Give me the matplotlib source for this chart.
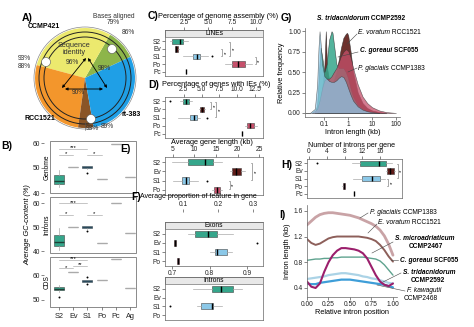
import matplotlib
matplotlib.use("Agg")
import matplotlib.pyplot as plt
from matplotlib.patches import Wedge, Circle, Rectangle
from matplotlib.ticker import NullLocator

plt.rcParams['font.family'] = ['Liberation Sans', 'DejaVu Sans']
plt.rcParams['font.size'] = 5
plt.rcParams['axes.linewidth'] = 0.5
plt.rcParams['axes.edgecolor'] = '#666666'
plt.rcParams['xtick.major.width'] = 0.5
plt.rcParams['ytick.major.width'] = 0.5
plt.rcParams['xtick.major.size'] = 2
plt.rcParams['ytick.major.size'] = 2
plt.rcParams['xtick.major.pad'] = 0.8
plt.rcParams['ytick.major.pad'] = 1
plt.rcParams['xtick.labelsize'] = 4.8
plt.rcParams['ytick.labelsize'] = 4.8
plt.rcParams['xtick.color'] = '#555555'
plt.rcParams['ytick.color'] = '#555555'
plt.rcParams['xtick.labelcolor'] = '#222222'
plt.rcParams['ytick.labelcolor'] = '#222222'

W, H = 474, 327

C_S2 = '#35a68b'
C_EV = '#5e1b17'
C_S1 = '#8bc8e8'
C_PO = '#c6506b'

# ---------------- data ----------------
# A) pie: wedge sizes in degrees, counter-clockwise from 25 deg
a_sizes = [35, 105, 97, 18, 105]
a_colors = ['#8db54a', '#ece96e', '#f3962c', '#8a5526', '#1f9fe6']
a_start = 25

# B) GC content, vertical boxes
b_cats = ['S2', 'Ev', 'S1', 'Po', 'Pc', 'Ag']
b_genome = dict(q1=[43.6, 50.5, 49.9, 45.6, 59.5, 46.4], med=[44.9, 50.5, 50.4, 45.6, 59.5, 46.4],
                q3=[47.2, 50.5, 50.8, 45.6, 59.5, 46.4], lo=[42.5, 50.5, 49.7, 45.6, 59.5, 46.4],
                hi=[49.2, 50.5, 51.0, 45.6, 59.5, 46.4], fl=[[], [], [48.1], [], [], []])
b_introns = dict(q1=[42.1, 49.9, 49.4, 43.5, 59.9, 47.5], med=[43.9, 49.9, 49.9, 43.5, 59.9, 47.5],
                 q3=[46.7, 49.9, 50.4, 43.5, 59.9, 47.5], lo=[40.4, 49.9, 49.2, 43.5, 59.9, 47.5],
                 hi=[49.4, 49.9, 50.6, 43.5, 59.9, 47.5], fl=[[], [], [48.3], [], [], []])
b_cds = dict(q1=[54.0, 61.2, 57.3, 58.0, 66.3, 54.8], med=[54.6, 61.2, 57.6, 58.0, 66.3, 54.8],
             q3=[55.3, 61.2, 58.0, 58.0, 66.3, 54.8], lo=[53.3, 61.2, 57.1, 58.0, 66.3, 54.8],
             hi=[56.0, 61.2, 58.2, 58.0, 66.3, 54.8], fl=[[51.3], [], [59.1, 56.4], [], [], []])
b_sig_genome = [(0, 2, 57.7, '***'), (0, 1, 55.2, '*'), (2, 3, 55.2, '*')]
b_sig_introns = [(0, 2, 59.9, '***'), (0, 1, 55.0, '*'), (2, 3, 55.0, '*')]
b_sig_cds = [(0, 2, 66.0, '***'), (0, 1, 62.7, '*'), (1, 2, 63.6, '**')]

# C) LINEs, % of genome assembly
c_cats = ['S2', 'Ev', 'S1', 'Po', 'Pc']
c_box = dict(q1=[1.28, 1.6, 3.4, 7.5, 2.7], med=[2.08, 1.7, 3.85, 8.1, 2.7], q3=[2.43, 1.9, 4.2, 8.9, 2.7],
             lo=[1.04, 1.55, 2.4, 6.8, 2.7], hi=[2.9, 1.95, 5.0, 9.6, 2.7], fl=[[], [], [5.4], [], []])
c_sig = [(1, 2, 6.5), (0, 2, 7.3), (2, 3, 10.0)]

# D) genes with IEs
d_cats = ['S2', 'Ev', 'S1', 'Po', 'Pc']
d_box = dict(q1=[2.4, 4.8, 3.4, 11.4, 10.7], med=[2.8, 5.0, 3.9, 11.9, 10.7], q3=[3.2, 5.3, 4.4, 12.4, 10.7],
             lo=[2.0, 4.6, 1.7, 11.1, 10.7], hi=[3.6, 5.5, 4.8, 12.8, 10.7], fl=[[0.6], [], [5.8], [], []])
d_sig = [(0, 1, 6.4), (0, 2, 7.1)]

# E) gene length
e_cats = ['S2', 'Ev', 'S1', 'Po']
e_box = dict(q1=[8.6, 18.6, 7.2, 14.6], med=[12.5, 19.6, 8.1, 15.2], q3=[14.4, 20.9, 8.8, 16.0],
             lo=[4.8, 18.3, 5.1, 14.1], hi=[16.3, 21.6, 10.9, 16.4], fl=[[], [], [13.0], []])
e_sig = [(2, 3, 18.2), (0, 2, 23.4)]

# F) proportion of feature in gene
f_cats = ['S2', 'Ev', 'S1', 'Po']
fx_box = dict(q1=[0.761, 0.706, 0.815, 0.714], med=[0.796, 0.708, 0.820, 0.716], q3=[0.820, 0.710, 0.847, 0.718],
              lo=[0.743, 0.705, 0.800, 0.713], hi=[0.863, 0.711, 0.860, 0.719], fl=[[], [0.927], [], []])
fi_box = dict(q1=[0.183, None, 0.151, None], med=[0.209, None, 0.183, None], q3=[0.243, None, 0.186, None],
              lo=[0.129, None, 0.140, None], hi=[0.269, None, 0.211, None], fl=[[], [], [0.063], []])

# G) intron length densities (kb, relative frequency)
g_ev_x = [0.05, 0.063, 0.08, 0.1, 0.115, 0.13, 0.16, 0.2, 0.25, 0.32, 0.4, 0.5, 0.63, 0.8, 0.9, 1.0, 1.26, 1.6, 2.5, 4, 6.3, 10, 20, 40]
g_ev_y = [0.0, 0.05, 0.3, 0.55, 1.0, 0.55, 0.4, 0.36, 0.4, 0.5, 0.65, 0.8, 0.92, 0.97, 0.98, 0.95, 0.75, 0.5, 0.25, 0.12, 0.06, 0.03, 0.01, 0.0]
g_cg_x = [0.04, 0.05, 0.063, 0.07, 0.08, 0.1, 0.126, 0.14, 0.16, 0.2, 0.22, 0.25, 0.32, 0.4, 0.5, 0.63, 0.8, 1.0, 1.26, 1.6, 2.5, 4, 6.3, 10, 20]
g_cg_y = [0.0, 0.1, 0.6, 0.8, 0.7, 0.5, 0.6, 0.75, 0.9, 1.0, 0.98, 0.85, 0.6, 0.55, 0.55, 0.55, 0.5, 0.42, 0.3, 0.2, 0.1, 0.05, 0.02, 0.01, 0.0]
g_pg_x = [0.03, 0.05, 0.063, 0.08, 0.1, 0.126, 0.16, 0.2, 0.25, 0.32, 0.4, 0.5, 0.63, 0.8, 1.0, 1.26, 1.6, 2.5, 4, 6.3, 10, 20, 40, 100]
g_pg_y = [0.0, 0.05, 0.15, 0.3, 0.4, 0.42, 0.42, 0.45, 0.5, 0.55, 0.62, 0.7, 0.75, 0.78, 0.76, 0.68, 0.55, 0.35, 0.2, 0.12, 0.07, 0.03, 0.01, 0.0]
g_st_x = [0.016, 0.025, 0.04, 0.05, 0.057, 0.063, 0.07, 0.08, 0.1, 0.126, 0.16, 0.2, 0.25, 0.32, 0.4, 0.5, 0.63, 0.8, 1.0, 1.26, 1.6, 2.5, 4, 6.3, 10, 20]
g_st_y = [0.0, 0.0, 0.05, 0.35, 0.8, 1.0, 0.85, 0.6, 0.45, 0.42, 0.39, 0.38, 0.38, 0.4, 0.43, 0.45, 0.44, 0.38, 0.3, 0.22, 0.15, 0.08, 0.04, 0.02, 0.01, 0.0]

# H) introns per gene
h_cats = ['S2', 'Ev', 'S1', 'Po', 'Pc']
h_box = dict(q1=[11.5, 17.5, 11.9, 7.6, 10.1], med=[15.8, 18.3, 14.1, 7.9, 10.1], q3=[17.3, 19.1, 16.0, 8.1, 10.1],
             lo=[9.6, 17.3, 10.0, 7.5, 10.1], hi=[18.6, 19.3, 17.1, 8.2, 10.1], fl=[[1.7], [], [], [], []])
h_sig = [(2, 3, 17.9), (0, 2, 20.0)]

# I) intron length along relative position
i_x = [0, .05, .1, .15, .2, .25, .3, .35, .4, .45, .5, .55, .6, .65, .7, .75, .8, .85, .9, .95, 1.0]
i_pgl = [1.38, 1.44, 1.50, 1.54, 1.56, 1.57, 1.57, 1.56, 1.55, 1.54, 1.53, 1.51, 1.49, 1.46, 1.43, 1.40, 1.36, 1.30, 1.21, 1.08, 0.91]
i_evo = [1.16, 1.10, 1.07, 1.09, 1.13, 1.17, 1.19, 1.20, 1.20, 1.20, 1.20, 1.20, 1.20, 1.19, 1.18, 1.16, 1.13, 1.07, 0.99, 0.89, 0.81]
i_smi = [0.50, 0.42, 0.40, 0.47, 0.65, 0.80, 0.91, 0.98, 1.02, 1.02, 1.01, 1.00, 0.98, 0.94, 0.86, 0.73, 0.60, 0.50, 0.45, 0.43, 0.47]
i_cgo = [0.83, 0.84, 0.85, 0.85, 0.86, 0.86, 0.87, 0.87, 0.88, 0.88, 0.88, 0.88, 0.88, 0.88, 0.87, 0.86, 0.85, 0.82, 0.76, 0.68, 0.60]
i_str = [0.54, 0.55, 0.56, 0.57, 0.58, 0.60, 0.61, 0.62, 0.63, 0.63, 0.62, 0.61, 0.60, 0.58, 0.57, 0.55, 0.54, 0.52, 0.50, 0.48, 0.47]
i_fka = [0.47, 0.46, 0.46, 0.48, 0.49, 0.50, 0.51, 0.52, 0.53, 0.53, 0.53, 0.52, 0.51, 0.50, 0.49, 0.48, 0.47, 0.46, 0.45, 0.43, 0.41]

fig = plt.figure(figsize=(W / 100, H / 100), dpi=100)


def px_axes(x0, y0, x1, y1):
    # axes from pixel box, origin top-left
    ax = fig.add_axes([x0 / W, 1 - y1 / H, (x1 - x0) / W, (y1 - y0) / H])
    ax.set_facecolor('none')
    return ax


def draw_boxes(ax, d, colors, horizontal=True, width=0.7, med_colors=None):
    stats, pos = [], []
    for i in range(len(d['q1'])):
        if d['q1'][i] is None:
            continue
        stats.append(dict(q1=d['q1'][i], med=d['med'][i], q3=d['q3'][i],
                          whislo=d['lo'][i], whishi=d['hi'][i], fliers=d['fl'][i]))
        pos.append(i)
    bp = ax.bxp(stats, positions=pos, widths=width, patch_artist=True, showcaps=False,
                orientation='horizontal' if horizontal else 'vertical', manage_ticks=False,
                boxprops=dict(linewidth=0.4, edgecolor='#444444'),
                whiskerprops=dict(linewidth=0.5, color='#aaaaaa'),
                medianprops=dict(color='black', linewidth=1.0),
                flierprops=dict(marker='o', markersize=1.4, markerfacecolor='black',
                                markeredgecolor='none'))
    for b, p in zip(bp['boxes'], pos):
        b.set_facecolor(colors[p])
    if med_colors is not None:
        for m, p in zip(bp['medians'], pos):
            m.set_color(med_colors[p])
    return bp


def hpanel(rect, cats, d, colors, xlim, ticks, ticklabels=None, strip=None, strip_h=7, top=True):
    x0, y0, x1, y1 = rect
    ax = px_axes(x0, y0, x1, y1)
    draw_boxes(ax, d, colors)
    n = len(cats)
    h = y1 - y0
    if strip:
        frac = strip_h / h
        U = (n + 0.1) / (1 - frac)
        ax.set_ylim(n - 0.45, n - 0.45 - U)
        ax.add_patch(Rectangle((0, 1 - frac), 1, frac, transform=ax.transAxes,
                               facecolor='#e8e8e8', edgecolor='#777777', lw=0.5))
        ax.text(0.5, 1 - frac / 2, strip, transform=ax.transAxes, ha='center', va='center', fontsize=4.8)
    else:
        ax.set_ylim(n - 0.45, -0.55)
    ax.set_xlim(*xlim)
    ax.set_yticks(range(n))
    ax.set_yticklabels(cats)
    ax.set_xticks(ticks)
    if ticklabels is not None:
        ax.set_xticklabels(ticklabels)
    if top:
        ax.xaxis.tick_top()
    return ax


def brackets(ax, sig):
    # vertical significance brackets on the right of horizontal box panels
    span = ax.get_xlim()[1] - ax.get_xlim()[0]
    cap = span * 0.012
    for i, j, x in sig:
        ax.plot([x - cap, x, x, x - cap], [i + 0.05, i + 0.05, j - 0.05, j - 0.05], color='#666666', lw=0.4)
        ax.text(x + cap * 1.2, (i + j) / 2, '*', fontsize=4.5, va='center', ha='left', rotation=90)


# ---------------- B ----------------
b_rows = [('Genome', 141, 193, (40, 60.8), [40, 50, 60], b_genome, b_sig_genome),
          ('Introns', 197, 253, (39.2, 62.5), [40, 50, 60], b_introns, b_sig_introns),
          ('CDS', 257, 307, (47.2, 67.2), [50, 60], b_cds, b_sig_cds)]
b_colors = [C_S2, '#ffffff', C_S1, '#ffffff', '#ffffff', '#ffffff']
b_medc = ['#1f3f36', '#aaaaaa', '#2b4a5c', '#aaaaaa', '#aaaaaa', '#aaaaaa']
xpix = lambda px: (px - 59) / 14.2
for k, (name, y0, y1, ylim, yt, d, sig) in enumerate(b_rows):
    ax = px_axes(44, y0, 136, y1)
    draw_boxes(ax, d, b_colors, horizontal=False, med_colors=b_medc)
    for i, j, y, lab in sig:
        ax.plot([i, j], [y, y], color='#999999', lw=0.4)
        ax.text((i + j) / 2, y - 0.6, lab, ha='center', va='bottom', fontsize=4.2)
    ax.set_xlim(xpix(44), xpix(136))
    ax.set_ylim(*ylim)
    for s in ax.spines.values():
        s.set_visible(False)
    ax.add_patch(Rectangle((xpix(50), 0), xpix(136) - xpix(50), 1, transform=ax.get_xaxis_transform(),
                           fill=False, edgecolor='#777777', lw=0.6, clip_on=False))
    ax.text(xpix(46.8), sum(ylim) / 2, name, rotation=90, ha='center', va='center', fontsize=4.8)
    ax.set_yticks(yt)
    ax.set_xticks(range(len(b_cats)))
    if k == 2:
        ax.set_xticklabels(b_cats, fontsize=5.3)
        ax.tick_params(axis='x', pad=2)
    else:
        ax.tick_params(axis='x', length=0, labelbottom=False)

# ---------------- C ----------------
c_cols = [C_S2, C_EV, C_S1, C_PO, 'black']
cpx = lambda px: (px - 160) / 9.6
ax = hpanel((165, 30, 263, 76), c_cats, c_box, c_cols, (cpx(165), cpx(263)), [2.5, 5.0, 7.5, 10.0],
            ['2.5', '5.0', '7.5', '10.0'], strip='LINEs')
brackets(ax, c_sig)

# ---------------- D ----------------
dpx = lambda px: (px - 166) / 7.1
ax = hpanel((165, 97, 263, 138), d_cats, d_box, c_cols, (dpx(165), dpx(263)), [2.5, 5.0, 7.5, 10.0, 12.5],
            ['2.5', '5.0', '7.5', '10.0', '12.5'])
brackets(ax, d_sig)

# ---------------- E ----------------
epx = lambda px: (px - 151) / 4.33
ax = hpanel((165, 157, 263, 195), e_cats, e_box, c_cols, (epx(165), epx(263)), [5, 10, 15, 20, 25])
brackets(ax, e_sig)

# ---------------- F ----------------
fxp = lambda px: 0.7 + (px - 172) / 375
fip = lambda px: 0.1 + (px - 183) / 350
ax = hpanel((165, 222, 263, 266), f_cats, fx_box, c_cols, (fxp(165), fxp(263)), [0.7, 0.8, 0.9],
            strip='Exons', top=False)
tw = ax.twiny()
tw.set_xlim(fip(165), fip(263))
tw.set_xticks([0.1, 0.2, 0.3])
tw.set_xticklabels(['0.1', '0.2', '0.3'])
tw.spines['top'].set_position(('outward', 7))
tw.spines['top'].set_visible(False)
for s in ['left', 'right', 'bottom']:
    tw.spines[s].set_visible(False)
ax2 = hpanel((165, 277, 263, 320), f_cats, fi_box, c_cols, (fip(165), fip(263)), [],
             strip='Introns', top=False)

# ---------------- G ----------------
ax = px_axes(305, 28, 400, 117)
for s in ['top', 'right']:
    ax.spines[s].set_visible(False)
ax.set_xscale('log')
g_layers = [(g_ev_x, g_ev_y, C_EV, 0.9), (g_cg_x, g_cg_y, C_S2, 0.85),
            (g_pg_x, g_pg_y, C_PO, 0.75), (g_st_x, g_st_y, C_S1, 0.7)]
for xs, ys, col, al in g_layers:
    ax.fill_between(xs, ys, 0, facecolor=col, alpha=al, lw=0.4, edgecolor='#333333')
ax.set_xlim(10 ** -1.81, 10 ** 2.17)
ax.set_ylim(-0.05, 1.04)
ax.set_xticks([0.1, 1, 10, 100])
ax.set_xticklabels(['0.1', '1', '10', '100'])
ax.xaxis.set_minor_locator(NullLocator())
ax.set_yticks([0, 0.25, 0.5, 0.75, 1.0])
ax.set_yticklabels(['0.00', '0.25', '0.50', '0.75', '1.00'])
ax.set_ylabel('Relative frequency', fontsize=5.3, labelpad=2)
ax.set_xlabel('Intron length (kb)', fontsize=5.3, labelpad=1)

# ---------------- H ----------------
hpx = lambda px: (px - 309) / 4.44
ax = hpanel((307, 159, 402, 198), h_cats, h_box, c_cols, (hpx(307), hpx(402)), [0, 4, 8, 12, 16])
brackets(ax, h_sig)

# ---------------- I ----------------
ax = px_axes(307, 205, 397, 297)
for s in ['top', 'right']:
    ax.spines[s].set_visible(False)
i_lines = [(i_pgl, '#c9a3a6', 2.0), (i_evo, '#8d5f5a', 1.4), (i_cgo, '#5fa38f', 1.0),
           (i_str, '#abd3e6', 1.6), (i_fka, '#3e9ed8', 1.6), (i_smi, '#9b1f6c', 1.5)]
for ys, col, lw in i_lines:
    ax.plot(i_x, ys, color=col, lw=lw, solid_capstyle='round')
ax.set_xlim(0, 1.047)
ax.set_ylim(0.26, 1.69)
ax.set_xticks([0, 0.25, 0.5, 0.75, 1.0])
ax.set_xticklabels(['0.00', '0.25', '0.50', '0.75', '1.00'])
ax.set_yticks([0.4, 0.8, 1.2, 1.6])
ax.set_ylabel('Intron length (kb)', fontsize=5.3, labelpad=2)
ax.set_xlabel('Relative intron position', fontsize=5.3, labelpad=1)

# ---------------- overlay: A and all annotation text ----------------
ov = fig.add_axes([0, 0, 1, 1])
ov.set_xlim(0, W)
ov.set_ylim(H, 0)
ov.axis('off')

cx, cy = 85, 78
ang = a_start
for size, col in zip(a_sizes, a_colors):
    # y axis is inverted, so visual angles are negated
    ov.add_patch(Wedge((cx, cy), 50, -(ang + size), -ang, facecolor=col, edgecolor='none'))
    ang += size
for r in (41, 46):
    ov.add_patch(Circle((cx, cy), r, fill=False, edgecolor='#222222', lw=0.7))
ov.add_patch(Circle((cx, cy), 51, fill=False, edgecolor='#888888', lw=0.5))
for nx, ny in [(46, 62), (112, 49), (91, 119)]:
    ov.add_patch(Circle((nx, ny), 4.5, facecolor='white', edgecolor='#555555', lw=0.4))
ov.plot([85, 85], [122, 130], color='#555555', lw=0.4)
for p, q in [((86, 58), (62, 88)), ((88, 58), (107, 88)), ((65, 89), (103, 89))]:
    ov.annotate('', xy=p, xytext=q, arrowprops=dict(arrowstyle='<|-|>', lw=0.6, color='black',
                                                    mutation_scale=4, shrinkA=0, shrinkB=0))
ov.text(74, 49, 'Sequence\nidentity', ha='center', va='center', fontsize=5.3, color='#333333', linespacing=1.0)
for x, y, t in [(72, 62, '96%'), (104, 68, '98%'), (78, 93, '90%')]:
    ov.text(x, y, t, ha='center', va='center', fontsize=4.8, color='#333333')
for x, y, t in [(114, 17, 'Bases aligned'), (113, 23, '79%'), (128, 32, '86%'), (24, 58, '93%'),
                (24, 66, '88%'), (92, 128, '93%'), (107, 126, '89%')]:
    ov.text(x, y, t, ha='center', va='center', fontsize=4.8, color='#333333')
for x, y, t in [(44, 27, 'CCMP421'), (40, 118, 'RCC1521'), (131, 114, 'rt-383')]:
    ov.text(x, y, t, ha='center', va='center', fontsize=5, weight='bold')

# panel letters and titles
for x, y, t in [(22, 18, 'A)'), (1, 146, 'B)'), (148, 16, 'C)'), (148, 85, 'D)'), (120, 149, 'E)'),
                (131, 197, 'F)'), (281, 18, 'G)'), (281, 165, 'H)'), (279, 215, 'I)')]:
    ov.text(x, y, t, ha='left', va='center', fontsize=7.5, weight='bold')
ov.text(158, 16, 'Percentage of genome assembly (%)', ha='left', va='center', fontsize=5.3)
ov.text(162, 84, 'Percentage of genes with IEs (%)', ha='left', va='center', fontsize=5.3)
ov.text(212, 142, 'Average gene length (kb)', ha='center', va='center', fontsize=5.3)
ov.text(140, 197, 'Average proportion of feature in gene', ha='left', va='center', fontsize=5)
ov.text(352, 145.5, 'Number of introns per gene', ha='center', va='center', fontsize=5.1)
ov.text(28, 225, 'Average GC-content (%)', rotation=90, ha='center', va='center', fontsize=5.3, style='italic')


def two_part(x, y, sp, strain, bold=False, fs=4.8):
    w = 'bold' if bold else 'normal'
    t1 = ov.text(x, y, sp, style='italic', weight=w, fontsize=fs, ha='left', va='center')
    ov.annotate(' ' + strain, xy=(1, 0), xycoords=t1, ha='left', va='bottom', weight=w, fontsize=fs)


two_part(317, 18, 'S. tridacnidorum', 'CCMP2592', bold=True)
two_part(358, 32, 'E. voratum', 'RCC1521')
two_part(360, 51, 'C. goreaui', 'SCF055', bold=True)
two_part(358, 68, 'P. glacialis', 'CCMP1383')
for p, q in [((357, 34), (347, 44)), ((358, 52), (338, 57)), ((357, 68), (348, 72))]:
    ov.plot([p[0], q[0]], [p[1], q[1]], color='#444444', lw=0.4)

two_part(370, 212, 'P. glacialis', 'CCMP1383')
two_part(378, 223, 'E. voratum', 'RCC1521')
ov.text(395, 239, 'S. microadriaticum', style='italic', weight='bold', fontsize=4.8, va='center')
ov.text(426, 247, 'CCMP2467', weight='bold', fontsize=4.8, ha='center', va='center')
two_part(400, 260, 'C. goreaui', 'SCF055', bold=True)
ov.text(403, 272, 'S. tridacnidorum', style='italic', weight='bold', fontsize=4.8, va='center')
ov.text(428, 280, 'CCMP2592', weight='bold', fontsize=4.8, ha='center', va='center')
ov.text(407, 290, 'F. kawagutii', style='italic', fontsize=4.8, va='center')
ov.text(421, 299, 'CCMP2468', fontsize=4.8, ha='center', va='center')
for p, q in [((368, 213), (360, 218)), ((377, 224), (368, 233)), ((393, 242), (372, 253)),
             ((398, 260), (391, 260)), ((401, 273), (383, 282)), ((405, 291), (377, 285))]:
    ov.plot([p[0], q[0]], [p[1], q[1]], color='#444444', lw=0.4)

fig.savefig('out.png', dpi=100)
